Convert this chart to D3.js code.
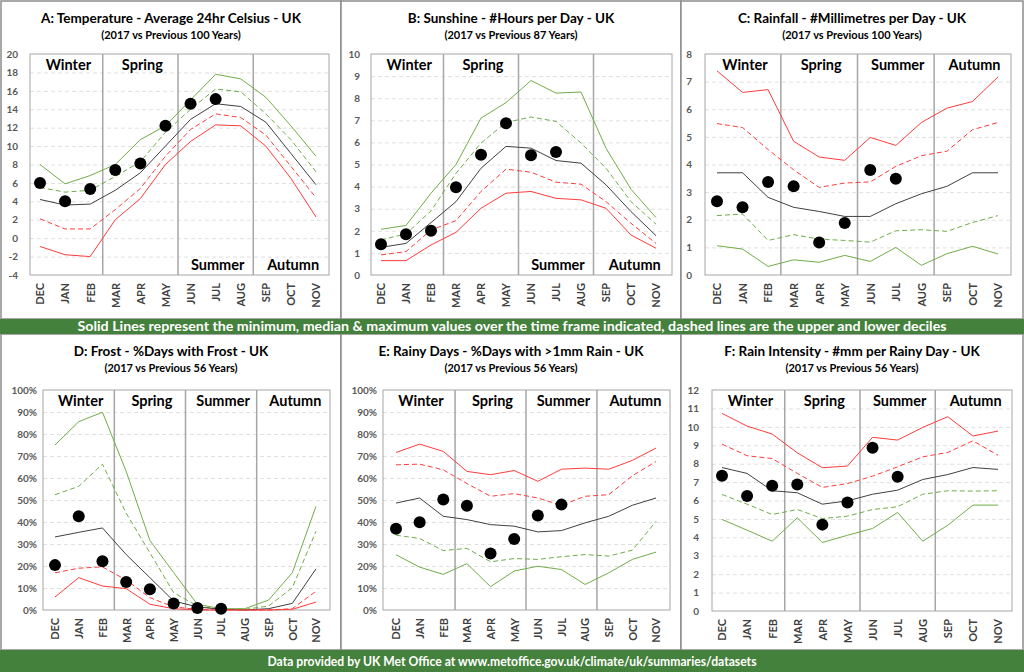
<!doctype html>
<html lang="en">
<head>
<meta charset="utf-8">
<title>UK Weather 2017 vs history</title>
<script src="https://cdn.jsdelivr.net/npm/d3@7"></script>
<style>
  body { margin:0; background:#fff; }
  svg { display:block; font-family: Lato, "Open Sans", sans-serif; }
</style>
</head>
<body>
<svg id="chart" width="1024" height="672"></svg>
<script>
const months = ["DEC","JAN","FEB","MAR","APR","MAY","JUN","JUL","AUG","SEP","OCT","NOV"];
const seasons = ["Winter","Spring","Summer","Autumn"];

// A: temperature (green = warm side, red = cold side)
const tempGreen    = [8.0, 5.9, 6.8, 8.0, 10.7, 12.2, 15.0, 17.8, 17.3, 15.3, 12.2, 8.9];
const tempGreenDec = [5.5, 5.0, 5.2, 6.7, 8.3, 11.5, 14.0, 16.2, 15.9, 13.5, 10.7, 7.2];
const tempMedian   = [4.2, 3.6, 3.7, 5.2, 7.1, 10.0, 12.9, 14.6, 14.3, 12.6, 9.2, 5.8];
const tempRedDec   = [2.1, 1.0, 1.0, 3.1, 5.4, 8.9, 11.8, 13.5, 13.1, 11.2, 7.8, 4.4];
const tempRed      = [-0.9, -1.8, -2.0, 2.0, 4.3, 8.0, 10.5, 12.3, 12.2, 10.0, 6.5, 2.3];
const temp2017     = [6.0, 4.0, 5.35, 7.4, 8.1, 12.2, 14.6, 15.1];

// B: sunshine hours
const sunGreen    = [2.07, 2.24, 3.7, 5.0, 7.1, 7.8, 8.8, 8.23, 8.28, 5.74, 3.88, 2.6];
const sunGreenDec = [1.59, 1.86, 2.9, 4.6, 5.97, 6.9, 7.15, 6.95, 5.97, 4.83, 3.32, 2.3];
const sunMedian   = [1.25, 1.43, 2.37, 3.32, 4.83, 5.82, 5.74, 5.18, 5.06, 4.08, 2.87, 1.78];
const sunRedDec   = [0.91, 1.06, 2.04, 2.46, 3.78, 4.79, 4.65, 4.2, 4.11, 3.32, 2.34, 1.43];
const sunRed      = [0.65, 0.65, 1.36, 1.93, 3.02, 3.7, 3.78, 3.47, 3.4, 3.02, 1.81, 1.21];
const sun2017     = [1.39, 1.84, 2.0, 3.97, 5.44, 6.87, 5.42, 5.57];

// C: rainfall mm per day (red = wet side)
const rainRed      = [7.39, 6.61, 6.71, 4.84, 4.27, 4.15, 4.98, 4.69, 5.52, 6.04, 6.28, 7.17];
const rainRedDec   = [5.48, 5.34, 4.54, 3.81, 3.17, 3.33, 3.37, 3.93, 4.32, 4.48, 5.26, 5.52];
const rainMedian   = [3.7, 3.7, 2.81, 2.45, 2.3, 2.12, 2.12, 2.58, 2.94, 3.21, 3.7, 3.7];
const rainGreenDec = [2.15, 2.21, 1.25, 1.46, 1.3, 1.25, 1.19, 1.6, 1.64, 1.58, 1.9, 2.15];
const rainGreen    = [1.06, 0.94, 0.31, 0.55, 0.46, 0.71, 0.49, 1.0, 0.35, 0.77, 1.04, 0.76];
const rain2017     = [2.67, 2.45, 3.37, 3.21, 1.18, 1.88, 3.8, 3.48];

// D: % days with frost
const frostGreen    = [75, 85.6, 89.9, 63, 31.6, 17, 2.6, 0.6, 0.6, 4.5, 16.9, 47.1];
const frostGreenDec = [52.4, 56.2, 66.3, 44, 26, 7.9, 1.8, 0.3, 0.3, 1.8, 10.1, 35.8];
const frostMedian   = [33.2, 35.3, 37.3, 25.2, 14.7, 4.1, 1.4, 0.3, 0, 0.6, 3, 18.7];
const frostRedDec   = [16.9, 19, 19.6, 13.6, 5.6, 1.4, 0.3, 0, 0, 0, 0.6, 8.5];
const frostRed      = [5.9, 14.7, 10.9, 9.7, 2.6, 0.6, 0, 0, 0, 0, 0.3, 3.6];
const frost2017     = [20.4, 42.6, 22.2, 12.7, 9.4, 3, 0.9, 0.6];

// E: % days with >1mm rain
const rdaysRed      = [71.6, 75.4, 72.1, 63, 61.5, 63.4, 58.5, 64, 64.5, 64, 68, 73.6];
const rdaysRedDec   = [66, 66.3, 63.7, 57.5, 51.7, 52.9, 50.9, 47.6, 51.7, 52.4, 61, 67.5];
const rdaysMedian   = [48.6, 50.9, 42.6, 41.1, 38.8, 38.1, 35.5, 36.1, 39.6, 42.6, 47.6, 50.9];
const rdaysGreenDec = [34, 32.5, 27, 28, 21.9, 23.4, 23, 24.2, 25.2, 24.5, 27.2, 40.3];
const rdaysGreen    = [25.1, 19.5, 16.2, 21.1, 10.6, 17.7, 19.9, 18.4, 11.6, 16.9, 23, 26.3];
const rdays2017     = [36.9, 39.9, 50.2, 47.4, 25.7, 32.3, 43, 47.9];

// F: mm per rainy day
const intRed      = [10.73, 10.04, 9.61, 8.59, 7.78, 7.87, 9.43, 9.28, 9.97, 10.55, 9.5, 9.77];
const intRedDec   = [9.06, 8.43, 8.28, 7.47, 6.71, 6.92, 7.32, 7.83, 8.37, 8.61, 9.24, 8.46];
const intMedian   = [7.79, 7.47, 6.53, 6.42, 5.8, 5.98, 6.34, 6.56, 7.14, 7.41, 7.79, 7.69];
const intGreenDec = [6.33, 5.8, 5.24, 5.51, 5.02, 5.15, 5.51, 5.66, 6.34, 6.53, 6.51, 6.53];
const intGreen    = [4.97, 4.39, 3.79, 5.06, 3.72, 4.11, 4.48, 5.35, 3.79, 4.66, 5.75, 5.75];
const int2017     = [7.34, 6.25, 6.8, 6.87, 4.69, 5.89, 8.86, 7.29];

const noteText = "Solid Lines represent the minimum, median & maximum values over the time frame indicated, dashed lines are the upper and lower deciles";
const sourceText = "Data provided by UK Met Office at www.metoffice.gov.uk/climate/uk/summaries/datasets";

const GREEN = "#70ad47", RED = "#ff3c3c", MED = "#404040";

const panels = [
  { title: "A: Temperature - Average 24hr Celsius - UK", sub: "(2017 vs Previous 100 Years)",
    box: [1, 1, 341, 319], plot: [30, 54, 329, 275], pts: [40, 316], ticks: d3.range(-4, 21, 2),
    labelX: 18, pct: false, bottomSeasons: 2,
    lines: [[tempGreen, GREEN, false], [tempGreenDec, GREEN, true], [tempMedian, MED, false], [tempRedDec, RED, true], [tempRed, RED, false]],
    dots: temp2017 },
  { title: "B: Sunshine - #Hours per Day - UK", sub: "(2017 vs Previous 87 Years)",
    box: [341, 1, 681, 319], plot: [371, 54, 672, 275], pts: [381, 656], ticks: d3.range(0, 11, 1),
    labelX: 360, pct: false, bottomSeasons: 2,
    lines: [[sunGreen, GREEN, false], [sunGreenDec, GREEN, true], [sunMedian, MED, false], [sunRedDec, RED, true], [sunRed, RED, false]],
    dots: sun2017 },
  { title: "C: Rainfall - #Millimetres per Day - UK", sub: "(2017 vs Previous 100 Years)",
    box: [681, 1, 1023, 319], plot: [705, 54, 1011, 275], pts: [717, 998], ticks: d3.range(0, 9, 1),
    labelX: 692, pct: false, bottomSeasons: 0,
    lines: [[rainRed, RED, false], [rainRedDec, RED, true], [rainMedian, MED, false], [rainGreenDec, GREEN, true], [rainGreen, GREEN, false]],
    dots: rain2017 },
  { title: "D: Frost - %Days with Frost - UK", sub: "(2017 vs Previous 56 Years)",
    box: [1, 334, 341, 650], plot: [43, 390, 330, 610], pts: [55, 316], ticks: d3.range(0, 101, 10),
    labelX: 37, pct: true, bottomSeasons: 0,
    lines: [[frostGreen, GREEN, false], [frostGreenDec, GREEN, true], [frostMedian, MED, false], [frostRedDec, RED, true], [frostRed, RED, false]],
    dots: frost2017 },
  { title: "E: Rainy Days - %Days with >1mm Rain - UK", sub: "(2017 vs Previous 56 Years)",
    box: [341, 334, 681, 650], plot: [383, 390, 670, 610], pts: [396, 656], ticks: d3.range(0, 101, 10),
    labelX: 377, pct: true, bottomSeasons: 0,
    lines: [[rdaysRed, RED, false], [rdaysRedDec, RED, true], [rdaysMedian, MED, false], [rdaysGreenDec, GREEN, true], [rdaysGreen, GREEN, false]],
    dots: rdays2017 },
  { title: "F: Rain Intensity - #mm per Rainy Day - UK", sub: "(2017 vs Previous 56 Years)",
    box: [681, 334, 1023, 650], plot: [712, 390, 1012, 611], pts: [722, 998], ticks: d3.range(0, 13, 1),
    labelX: 699, pct: false, bottomSeasons: 0,
    lines: [[intRed, RED, false], [intRedDec, RED, true], [intMedian, MED, false], [intGreenDec, GREEN, true], [intGreen, GREEN, false]],
    dots: int2017 }
];

const svg = d3.select("#chart");

panels.forEach(p => {
  const [bx0, by0, bx1, by1] = p.box;
  const [L, T, R, B] = p.plot;
  const g = svg.append("g");

  // panel frame
  g.append("rect").attr("x", bx0).attr("y", by0).attr("width", bx1 - bx0).attr("height", by1 - by0)
    .attr("fill", "#fff").attr("stroke", "#8c8c8c").attr("stroke-width", 1.5);

  const cx = (bx0 + bx1) / 2;
  g.append("text").attr("x", cx).attr("y", by0 + 22).attr("text-anchor", "middle")
    .attr("font-size", 13.5).attr("font-weight", "bold").attr("fill", "#000").text(p.title);
  g.append("text").attr("x", cx).attr("y", by0 + 38).attr("text-anchor", "middle")
    .attr("font-size", 11).attr("font-weight", "bold").attr("fill", "#000").text(p.sub);

  const x = d3.scalePoint().domain(months).range(p.pts);
  const y = d3.scaleLinear().domain(d3.extent(p.ticks)).range([B, T]);

  // dashed grid
  g.append("g").attr("transform", `translate(${L},0)`)
    .call(d3.axisLeft(y).tickValues(p.ticks.slice(1, -1)).tickSize(-(R - L)).tickFormat(""))
    .call(a => a.select(".domain").remove())
    .call(a => a.selectAll("line").attr("stroke", "#e0e0e0").attr("stroke-dasharray", "4,3"));

  // y labels
  g.append("g").attr("transform", `translate(${p.labelX},0)`)
    .call(d3.axisLeft(y).tickValues(p.ticks).tickSize(0).tickPadding(0)
      .tickFormat(d => p.pct ? d + "%" : d))
    .call(a => a.select(".domain").remove())
    .call(a => a.selectAll("text").attr("font-size", 10).attr("font-weight", "bold")
      .attr("fill", "#595959").attr("font-family", "Lato, sans-serif"));

  // x labels, rotated
  g.append("g").attr("transform", `translate(0,${B + 8})`)
    .call(d3.axisBottom(x).tickSize(0).tickPadding(0))
    .call(a => a.select(".domain").remove())
    .call(a => a.selectAll("text").attr("transform", "rotate(-90)").attr("text-anchor", "end")
      .attr("dy", "0.35em").attr("x", 0).attr("y", 0)
      .attr("font-size", 11).attr("font-weight", "bold").attr("fill", "#404040")
      .attr("font-family", "Lato, sans-serif"));

  // plot border
  g.append("rect").attr("x", L).attr("y", T).attr("width", R - L).attr("height", B - T)
    .attr("fill", "none").attr("stroke", "#a6a6a6").attr("stroke-width", 1);

  // season dividers and labels
  const edges = [L, (x("FEB") + x("MAR")) / 2, (x("MAY") + x("JUN")) / 2, (x("AUG") + x("SEP")) / 2, R];
  g.selectAll(".sep").data(edges.slice(1, 4)).join("line")
    .attr("x1", d => d).attr("x2", d => d).attr("y1", T).attr("y2", B)
    .attr("stroke", "#a6a6a6").attr("stroke-width", 1.5);
  g.selectAll(".season").data(seasons).join("text")
    .attr("x", (d, i) => (edges[i] + edges[i + 1]) / 2 + 2)
    .attr("y", (d, i) => i >= 4 - p.bottomSeasons ? B - 5 : T + 16)
    .attr("text-anchor", "middle").attr("font-size", 14.5).attr("font-weight", "bold").attr("fill", "#000")
    .text(d => d);

  // series lines
  const line = d3.line().x((d, i) => x(months[i])).y(d => y(d));
  p.lines.forEach(([vals, col, dashed]) => {
    g.append("path").datum(vals).attr("d", line).attr("fill", "none")
      .attr("stroke", col).attr("stroke-width", 1)
      .attr("stroke-dasharray", dashed ? "5,3" : null);
  });

  // 2017 values
  g.selectAll(".dot").data(p.dots).join("circle")
    .attr("cx", (d, i) => x(months[i])).attr("cy", d => y(d)).attr("r", 6).attr("fill", "#000");
});

// banners
svg.append("rect").attr("x", 0).attr("y", 319).attr("width", 1024).attr("height", 15).attr("fill", "#44813c");
svg.append("text").attr("x", 512).attr("y", 331).attr("text-anchor", "middle")
  .attr("font-size", 14).attr("font-weight", "bold").attr("fill", "#fff")
  .attr("textLength", 869).attr("lengthAdjust", "spacingAndGlyphs").text(noteText);
svg.append("rect").attr("x", 0).attr("y", 650).attr("width", 1024).attr("height", 22).attr("fill", "#44813c");
svg.append("text").attr("x", 512).attr("y", 666).attr("text-anchor", "middle")
  .attr("font-size", 13).attr("font-weight", "bold").attr("fill", "#fff")
  .attr("textLength", 489).attr("lengthAdjust", "spacingAndGlyphs").text(sourceText);
</script>
</body>
</html>
